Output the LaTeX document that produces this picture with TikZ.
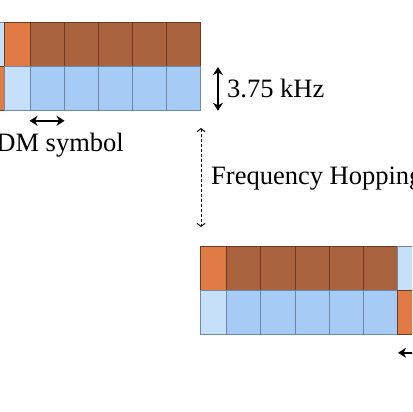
\documentclass[tikz,border=0pt]{standalone}
\usepackage{fontspec}
\setmainfont{Liberation Serif}
\usetikzlibrary{calc,positioning,arrows.meta}
\definecolor{rbOrange}{HTML}{E07B45}
\definecolor{rbBrown}{HTML}{A8623E}
\definecolor{rbLight}{HTML}{C6E0FA}
\definecolor{rbBlue}{HTML}{A6CBF5}
\definecolor{rbBrownLine}{HTML}{6E3A22}
\definecolor{rbBlueLine}{HTML}{6F88AA}
\tikzset{
   cell/.style={ rectangle, anchor=north west, inner sep=0pt, minimum height=44pt, line width=0.8pt},
   sym/.style={ minimum width=34.25pt},
   cp/.style={ minimum width=25.5pt},
   brown cell/.style={ cell, fill=rbBrown, draw=rbBrownLine},
   orange cell/.style={ cell, fill=rbOrange, draw=rbBrownLine},
   blue cell/.style={ cell, fill=rbBlue, draw=rbBlueLine},
   light cell/.style={ cell, fill=rbLight, draw=rbBlueLine},
   dim arrow/.style={ {Stealth[length=8pt,width=10pt,inset=2.5pt]}-{Stealth[length=8pt,width=10pt,inset=2.5pt]}, line width=1.7pt},
   hop arrow/.style={ {Straight Barb[length=3pt,width=8pt]}-{Straight Barb[length=3pt,width=8pt]}, densely dashed, line width=1pt},
   label text/.style={ inner sep=0pt, font=\fontsize{26.5}{30}\selectfont}
}
\begin{document}
\begin{tikzpicture}[x=1pt,y=-1pt]

  \useasboundingbox (0,0) rectangle (412,412);
  \clip (0,0) rectangle (412,412);

  %% upper block
  \node[light cell, sym]  at (-30.25,22) (u-prev-top) {};
  \node[orange cell, sym] at (-30.25,66) (u-prev-bot) {};
  \node[orange cell, cp]  at (4,22)      (u-cp-top)   {};
  \node[light cell, cp]   at (4,66)      (u-cp-bot)   {};
  \foreach \i in {1,...,5} {
    \node[brown cell, sym] at ({29.5+(\i-1)*34.1},22) (u-top-\i) {};
    \node[blue cell, sym]  at ({29.5+(\i-1)*34.1},66) (u-bot-\i) {};
  }

  %% lower block
  \node[orange cell, cp]  at (200,246) (l-cp-top) {};
  \node[light cell, cp]   at (200,290) (l-cp-bot) {};
  \foreach \i in {1,...,5} {
    \node[brown cell, sym] at ({226+(\i-1)*34.25},246) (l-top-\i) {};
    \node[blue cell, sym]  at ({226+(\i-1)*34.25},290) (l-bot-\i) {};
  }
  \node[light cell, sym]  at (397.25,246) (l-next-top) {};
  \node[orange cell, sym] at (397.25,290) (l-next-bot) {};

  %% symbol width
  \coordinate (sym l) at ($(u-bot-1.south west)+(0,10)$);
  \coordinate (sym r) at ($(u-bot-1.south east)+(0,10)$);
  \draw[dim arrow] (sym l) -- (sym r);
  \node[label text, anchor=base east] at (124,151) (sym label) {OFDM symbol};

  %% subcarrier spacing
  \coordinate (sc top) at ($(u-bot-5.north east)+(17,1)$);
  \coordinate (sc bot) at ($(u-bot-5.south east)+(17,0)$);
  \draw[dim arrow] (sc top) -- (sc bot);
  \node[label text, anchor=base west] at (227,97) (sc label) {3.75 kHz};

  %% hopping
  \coordinate (hop top) at (201,128);
  \coordinate (hop bot) at (201,227);
  \draw[hop arrow] (hop top) -- (hop bot);
  \node[label text, anchor=base west] at (211,184) (hop label) {Frequency Hopping};

  %% next symbol width (cut)
  \coordinate (nx l) at ($(l-bot-5.south east)+(0,18)$);
  \coordinate (nx r) at ($(l-next-bot.south east)+(0,18)$);
  \draw[dim arrow] (nx l) -- (nx r);

\end{tikzpicture}
\end{document}
